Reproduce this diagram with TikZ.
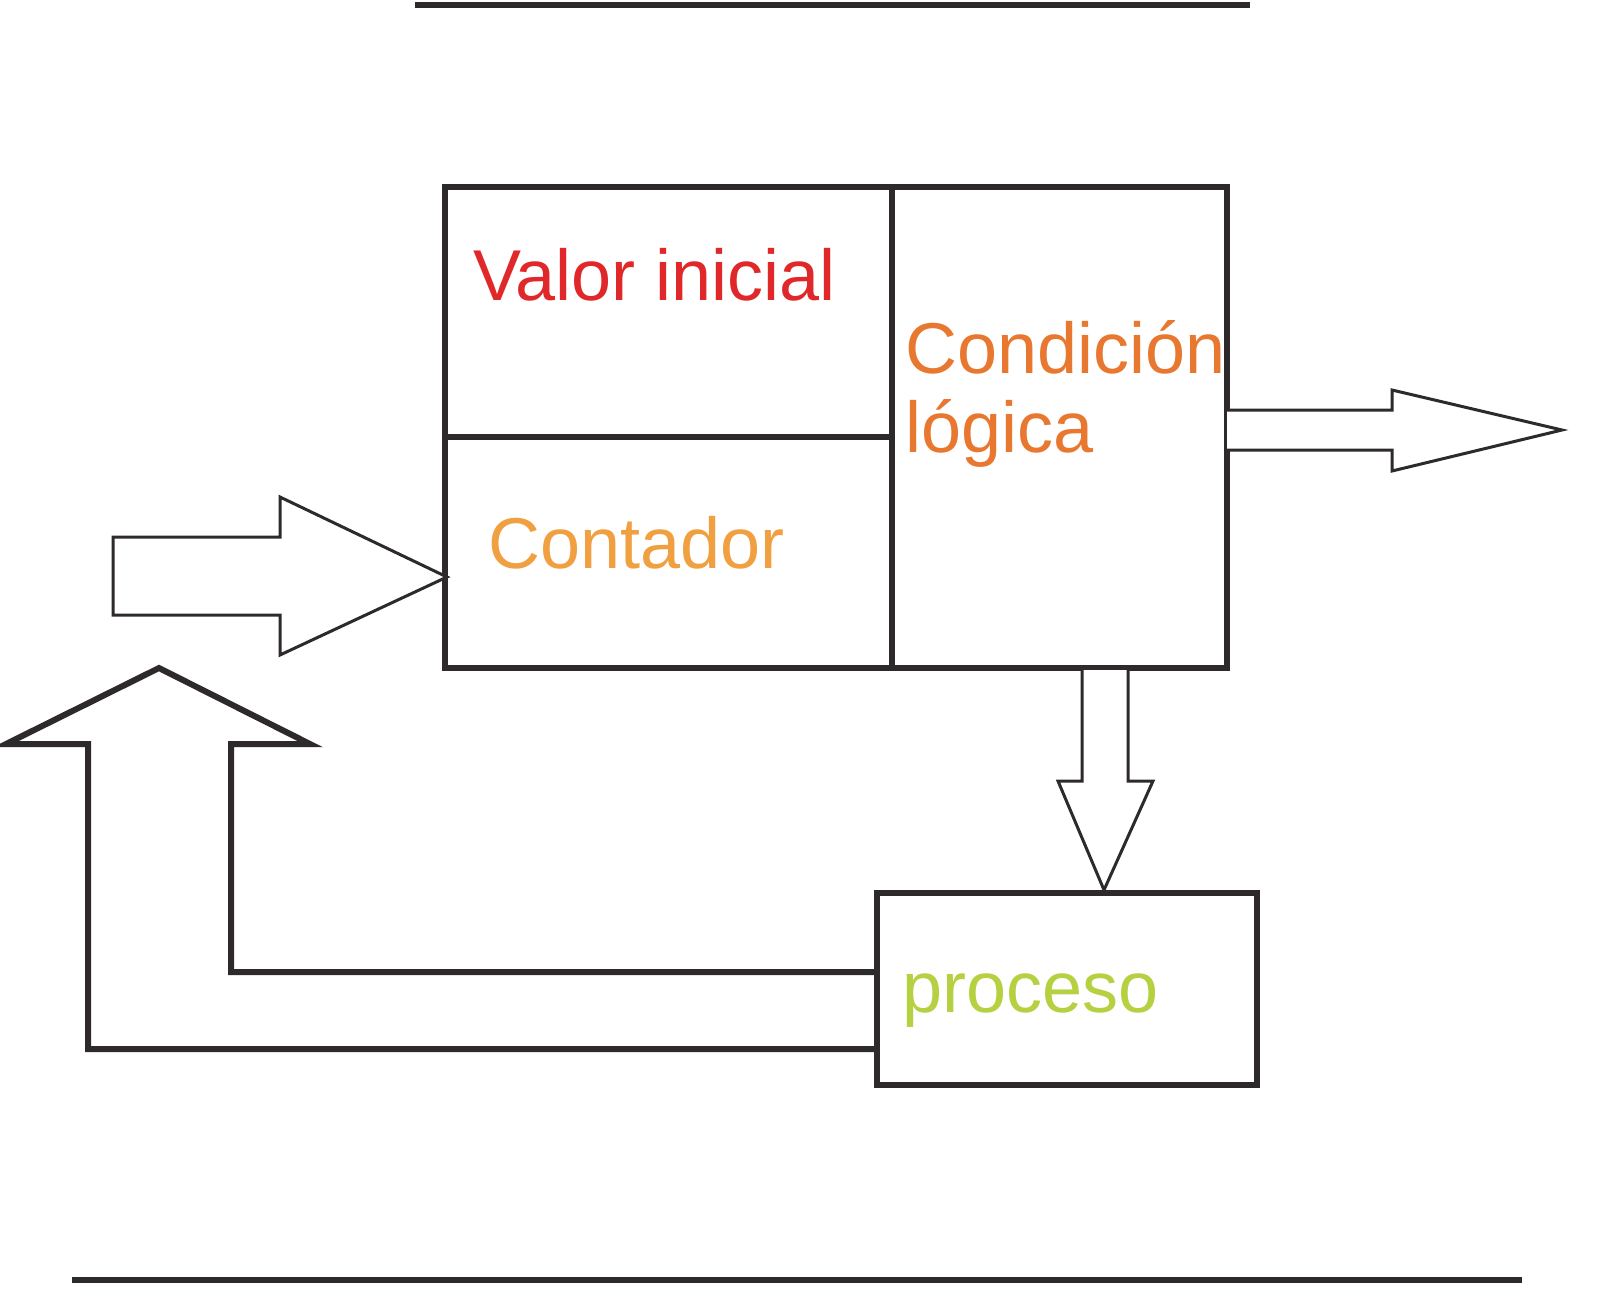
\documentclass[tikz,border=0pt]{standalone}
\usepackage{fontspec}
\setmainfont{Liberation Sans}
\definecolor{cred}{HTML}{E0282A}
\definecolor{corange}{HTML}{F0A040}
\definecolor{cdorange}{HTML}{E87830}
\definecolor{cgreen}{HTML}{B5D040}
\definecolor{cline}{HTML}{2E2A2B}
\tikzset{thickln/.style={draw=cline,line width=6pt},
 thinarrow/.style={draw=cline,line width=3pt,fill=white,line join=miter},
 lbl/.style={anchor=base west,inner sep=0pt,font=\fontsize{72}{82}\selectfont}}
\begin{document}
\begin{tikzpicture}[x=1pt,y=-1pt]
\useasboundingbox (0,0) rectangle (1600,1310);
\draw[thickln] (415,5) -- (1250,5);
\draw[thickln] (72,1280) -- (1522,1280);
\draw[thickln] (445,187) rectangle (1227,668);
\draw[thickln] (892,187) -- (892,668);
\draw[thickln] (445,437) -- (892,437);
\draw[thickln] (877,893) rectangle (1257,1085);
\node[lbl,text=cred] (v) at (473,300) {Valor inicial};
\node[lbl,text=corange] (c) at (488,568) {Contador};
\node[lbl,text=cdorange] (c1) at (905,373) {Condición};
\node[lbl,text=cdorange] (c2) at (905,452) {lógica};
\node[lbl,text=cgreen] (p) at (902,1012) {proceso};
\draw[thinarrow] (1227,410) -- (1392,410) -- (1392,390) -- (1562,430) -- (1392,471) -- (1392,450) -- (1227,450);
\draw[thinarrow] (113,537) -- (280,537) -- (280,497) -- (447,577) -- (280,655) -- (280,615) -- (113,615) -- cycle;
\draw[thinarrow] (1082,670) -- (1082,781) -- (1058,781) -- (1104,890) -- (1153,781) -- (1128,781) -- (1128,670);
\draw[draw=cline,line width=6pt,line join=miter,miter limit=10] (877,1049) -- (88,1049) -- (88,744) -- (6,744) -- (159,668) -- (310,744) -- (231,744) -- (231,972) -- (877,972);
\end{tikzpicture}
\end{document}
